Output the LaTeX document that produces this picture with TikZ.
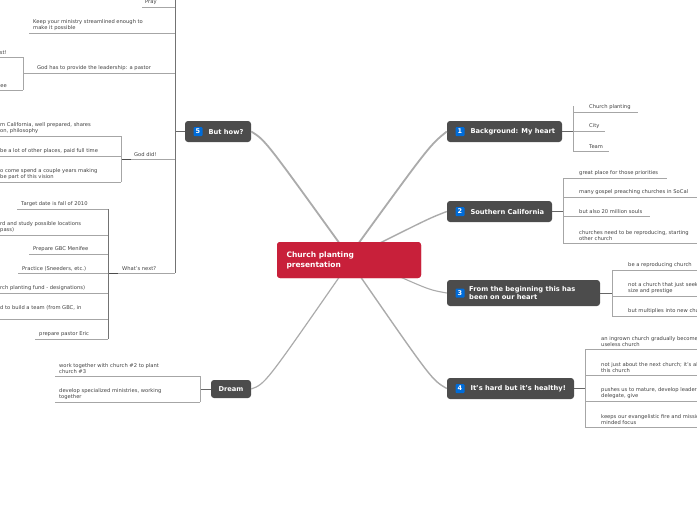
\documentclass[tikz,border=0pt]{standalone}
\usepackage{fontspec}
\setmainfont{DejaVu Sans}
\definecolor{crim}{HTML}{C8203A}
\begin{document}
\begin{tikzpicture}[x=1pt,y=-1pt,
  leaf/.style={font=\fontsize{5.2}{6.4}\selectfont,text=black!75,inner sep=0pt,align=left,anchor=south west},
  uline/.style={draw=black!35,line width=0.7pt},
  bline/.style={draw=black!60,line width=0.8pt},
  branch/.style={fill=black!70,text=white,rounded corners=3pt,font=\fontsize{6.7}{7.6}\selectfont\bfseries,inner sep=0pt,align=left},
  badge/.style={fill=blue!50!cyan!85!black,text=white,font=\fontsize{6.5}{7}\selectfont\bfseries,minimum size=9pt,inner sep=0pt,rounded corners=1pt},
  trunk/.style={draw=black!33,line width=1.8pt}]
\useasboundingbox (0,0) rectangle (697,520);
\clip (0,0) rectangle (697,520);
% trunks
\coordinate (c1) at (358,244); \coordinate (c2) at (378,244);
\coordinate (c3) at (398,276); \coordinate (c4) at (360,276);
\coordinate (c5) at (340,244); \coordinate (c6) at (340,276);
% central
\node[fill=crim,rounded corners=3pt,minimum width=144pt,minimum height=36pt,inner sep=0pt] (c) at (349,260) {};
\node[anchor=west,text=white,font=\fontsize{7.5}{10}\selectfont\bfseries,align=left] (ct) at (283,260) {Church planting\\presentation};
% branch boxes
\node[branch,minimum width=115pt,minimum height=21pt] (b1) at (504.5,131.5) {};
\node[badge] (n1) at (460,131.5) {1};
\node[anchor=west,text=white,font=\fontsize{6.7}{7.6}\selectfont\bfseries] (t1) at (467,131.5) {Background: My heart};
\node[branch,minimum width=105pt,minimum height=21pt] (b2) at (499.5,211.5) {};
\node[badge] (n2) at (460,211.5) {2};
\node[anchor=west,text=white,font=\fontsize{6.7}{7.6}\selectfont\bfseries] (t2) at (467,211.5) {Southern California};
\node[branch,minimum width=153pt,minimum height=26pt] (b3) at (523.5,293) {};
\node[badge] (n3) at (460,293) {3};
\node[anchor=west,text=white,font=\fontsize{6.7}{8}\selectfont\bfseries,align=left,inner sep=0pt] (t3) at (469,293) {From the beginning this has\\been on our heart};
\node[branch,minimum width=127pt,minimum height=21pt] (b4) at (510.5,388.5) {};
\node[badge] (n4) at (460,388.5) {4};
\node[anchor=west,text=white,font=\fontsize{6.7}{7.6}\selectfont\bfseries] (t4) at (467,388.5) {It's hard but it's healthy!};
\node[branch,minimum width=66pt,minimum height=21pt] (b5) at (218,131.5) {};
\node[badge] (n5) at (198,131.5) {5};
\node[anchor=west,text=white,font=\fontsize{6.7}{7.6}\selectfont\bfseries] (t5) at (205,131.5) {But how?};
\node[branch,minimum width=40pt,minimum height=18pt] (b6) at (231,389) {};
\node[text=white,font=\fontsize{6.7}{7.6}\selectfont\bfseries] (t6) at (231,389) {Dream};
\begin{scope}[on background layer/.style={}]
\draw[trunk] (c1) .. controls (430,145) .. (b1.west);
\draw[trunk,line width=1.4pt] (c2) .. controls (430,218) .. (b2.west);
\draw[trunk,line width=1.1pt] (c3) .. controls (430,290) .. (b3.west);
\draw[trunk,line width=1.4pt] (c4) .. controls (432,380) .. (b4.west);
\draw[trunk] (c5) .. controls (265,140) .. (b5.east);
\draw[trunk,line width=1.2pt] (c6) .. controls (265,384) .. (b6.east);
\end{scope}
\node[fill=crim,rounded corners=3pt,minimum width=144pt,minimum height=36pt,inner sep=0pt] (c0) at (349,260) {};
\node[anchor=west,text=white,font=\fontsize{7.5}{10}\selectfont\bfseries,align=left] (ct0) at (283,260) {Church planting\\presentation};
% branch 1
\draw[bline] (b1.east) -- (573,131.5);
\draw[uline] (573,106) -- (573,152);
\draw[uline] (573,112) -- (638,112); \node[leaf] (l11) at (589,110) {Church planting};
\draw[uline] (573,131) -- (605,131); \node[leaf] (l12) at (589,129) {City};
\draw[uline] (573,151) -- (609,151); \node[leaf] (l13) at (589,149) {Team};
% branch 2
\draw[bline] (b2.east) -- (563,211.5);
\draw[uline] (563,178) -- (563,243);
\draw[uline] (563,178) -- (667,178); \node[leaf] (l21) at (579,176) {great place for those priorities};
\draw[uline] (563,197) -- (697,197); \node[leaf] (l22) at (579,195) {many gospel preaching churches in SoCal};
\draw[uline] (563,216) -- (650,216); \node[leaf] (l23) at (579,214) {but also 20 million souls};
\draw[uline] (563,243) -- (697,243); \node[leaf] (l24) at (579,241) {churches need to be reproducing, starting\\other church};
% branch 3
\draw[bline] (b3.east) -- (612,293);
\draw[uline] (612,270) -- (612,316);
\draw[uline] (612,270) -- (697,270); \node[leaf] (l31) at (628,268) {be a reproducing church};
\draw[uline] (612,296) -- (697,296); \node[leaf] (l32) at (628,294) {not a church that just seeks\\size and prestige};
\draw[uline] (612,316) -- (697,316); \node[leaf] (l33) at (628,314) {but multiplies into new churches};
% branch 4
\draw[bline] (b4.east) -- (585,388.5);
\draw[uline] (585,349) -- (585,427);
\draw[uline] (585,349) -- (697,349); \node[leaf] (l41) at (601,347) {an ingrown church gradually becomes a\\useless church};
\draw[uline] (585,375) -- (697,375); \node[leaf] (l42) at (601,373) {not just about the next church; it's about\\this church};
\draw[uline] (585,401) -- (697,401); \node[leaf] (l43) at (601,399) {pushes us to mature, develop leaders,\\delegate, give};
\draw[uline] (585,427) -- (697,427); \node[leaf] (l44) at (601,425) {keeps our evangelistic fire and mission-\\minded focus};
% branch 5
\draw[bline] (b5.west) -- (175,131.5);
\draw[uline,draw=black!55] (175,0) -- (175,273);
\draw[uline] (142,7) -- (175,7); \node[leaf] (l51) at (145,5) {Pray};
\draw[uline] (29,33) -- (175,33); \node[leaf] (l52) at (33,31) {Keep your ministry streamlined enough to\\make it possible};
\draw[uline] (23,73) -- (175,73); \node[leaf] (l53) at (37,71) {God has to provide the leadership: a pastor};
\draw[uline] (23,57) -- (23,90);
\draw[uline] (-20,57) -- (23,57); \node[leaf,anchor=south east] (l531) at (7,55) {st!};
\draw[uline] (-20,90) -- (23,90); \node[leaf,anchor=south east] (l532) at (7,88) {ee};
\draw[uline] (121,159) -- (175,159); \node[leaf] (l54) at (134,157) {God did!};
\draw[bline,draw=black!70] (121,159) -- (131,159);
\draw[uline] (121,136) -- (121,182);
\draw[uline] (0,136) -- (121,136); \node[leaf] (l541) at (0,134) {m California, well prepared, shares\\on, philosophy};
\draw[uline] (0,156) -- (121,156); \node[leaf] (l542) at (0,154) {be a lot of other places, paid full time};
\draw[uline] (0,182) -- (121,182); \node[leaf] (l543) at (0,180) {o come spend a couple years making\\be part of this vision};
\draw[uline] (108,273) -- (175,273); \node[leaf] (l55) at (122,271) {What's next?};
\draw[bline,draw=black!70] (108,273) -- (118,273);
\draw[uline,draw=black!55] (108,209) -- (108,339);
\draw[uline] (17,209) -- (108,209); \node[leaf] (l551) at (21,207) {Target date is fall of 2010};
\draw[uline] (0,235) -- (108,235); \node[leaf] (l552) at (0,233) {rd and study possible locations\\ pass)};
\draw[uline] (29,254) -- (108,254); \node[leaf] (l553) at (33,252) {Prepare GBC Menifee};
\draw[uline] (18,273) -- (108,273); \node[leaf] (l554) at (22,271) {Practice (Sneeders, etc.)};
\draw[uline] (0,293) -- (108,293); \node[leaf] (l555) at (0,291) {rch planting fund - designations)};
\draw[uline] (0,319) -- (108,319); \node[leaf] (l556) at (0,310) {d to build a team (from GBC, in};
\draw[uline] (35,339) -- (108,339); \node[leaf] (l557) at (39,337) {prepare pastor Eric};
% dream
\draw[bline] (b6.west) -- (200,389);
\draw[uline] (200,376) -- (200,402);
\draw[uline] (55,376) -- (200,376); \node[leaf] (l61) at (59,374) {work together with church \#2 to plant\\church \#3};
\draw[uline] (55,402) -- (200,402); \node[leaf] (l62) at (59,400) {develop specialized ministries, working\\together};
\end{tikzpicture}
\end{document}
